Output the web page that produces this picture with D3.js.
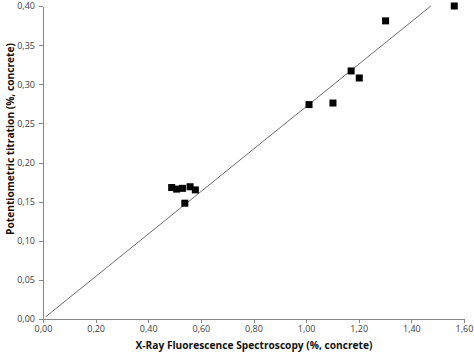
<!DOCTYPE html>
<html>
<head>
<meta charset="utf-8">
<script src="https://cdn.jsdelivr.net/npm/d3@7"></script>
<style>
  body { margin: 0; background: #fff; }
  .axis path, .axis line { stroke: #868686; shape-rendering: crispEdges; }
  .axis text { font-family: "Open Sans", sans-serif; font-size: 9px; fill: #404040; }
  .title { font-family: "Open Sans", sans-serif; font-size: 10.2px; font-weight: bold; fill: #111; }
</style>
</head>
<body>
<div class="chart"></div>
<script>
// XRF vs potentiometric titration, % of concrete
var xrf   = [0.489, 0.508, 0.530, 0.559, 0.579, 0.539, 1.011, 1.102, 1.171, 1.202, 1.302, 1.563],
    titr  = [0.168, 0.166, 0.167, 0.169, 0.165, 0.148, 0.274, 0.276, 0.317, 0.308, 0.381, 0.400],
    xTicks = [0, 0.2, 0.4, 0.6, 0.8, 1.0, 1.2, 1.4, 1.6],
    yTicks = [0, 0.05, 0.10, 0.15, 0.20, 0.25, 0.30, 0.35, 0.40],
    fitLine = [[0.01, 0.0027], [1.474, 0.40]];

var margin = {left: 43, top: 6, right: 10, bottom: 34},
    outerWidth = 474,
    outerHeight = 353,
    width = 464 - margin.left,
    height = 319 - margin.top;

var fmt = function(d) { return d3.format(".2f")(d).replace(".", ","); };

var xScale = d3.scaleLinear().domain([0, 1.6]).range([0, width]),
    yScale = d3.scaleLinear().domain([0, 0.4]).range([height, 0]);

var svg = d3.select(".chart").append("svg")
    .attr("width", outerWidth)
    .attr("height", outerHeight)
  .append("g")
    .attr("transform", "translate(" + margin.left + "," + margin.top + ")");

svg.append("g")
    .attr("class", "axis")
    .attr("transform", "translate(0," + height + ")")
    .call(d3.axisBottom(xScale).tickValues(xTicks).tickFormat(fmt).tickSizeInner(4).tickSizeOuter(0).tickPadding(3));

svg.append("g")
    .attr("class", "axis")
    .call(d3.axisLeft(yScale).tickValues(yTicks).tickFormat(fmt).tickSizeInner(4).tickSizeOuter(0).tickPadding(4));

var line = d3.line()
    .x(function(d) { return xScale(d[0]); })
    .y(function(d) { return yScale(d[1]); });

svg.append("path")
    .datum(fitLine)
    .attr("d", line)
    .attr("fill", "none")
    .attr("stroke", "#6e6e6e")
    .attr("stroke-width", 1);

var pts = xrf.map(function(x, i) { return {x: x, y: titr[i]}; });
var s = 7;
svg.selectAll(".pt")
    .data(pts)
  .enter().append("rect")
    .attr("class", "pt")
    .attr("x", function(d) { return xScale(d.x) - s / 2; })
    .attr("y", function(d) { return yScale(d.y) - s / 2; })
    .attr("width", s)
    .attr("height", s)
    .attr("fill", "#000");

svg.append("text")
    .attr("class", "title")
    .attr("text-anchor", "middle")
    .attr("x", 254 - margin.left)
    .attr("y", 349 - margin.top)
    .text("X-Ray Fluorescence Spectroscopy (%, concrete)");

svg.append("text")
    .attr("class", "title")
    .attr("text-anchor", "middle")
    .attr("transform", "translate(" + (14 - margin.left) + "," + (139 - margin.top) + ") rotate(-90)")
    .text("Potentiometric titration (%, concrete)");
</script>
</body>
</html>
